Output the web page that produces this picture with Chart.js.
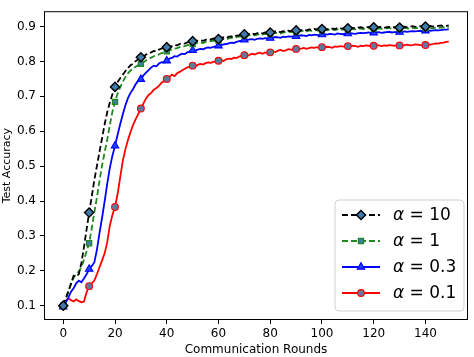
<!DOCTYPE html>
<html>
<head>
<meta charset="utf-8">
<script src="https://cdn.jsdelivr.net/npm/chart.js@4/dist/chart.umd.min.js"></script>
<style>
html,body{margin:0;padding:0;background:#fff;}
#wrap{width:474px;height:357px;position:relative;}
</style>
</head>
<body>
<div id="wrap"><canvas id="c"></canvas></div>
<script>
const rounds = Array.from({length: 150}, (_, i) => i);
const xTicks = [0, 20, 40, 60, 80, 100, 120, 140];
const yTicks = [0.1, 0.2, 0.3, 0.4, 0.5, 0.6, 0.7, 0.8, 0.9];
const seriesLabels = ['10', '1', '0.3', '0.1'];

const alpha10 = [
0.100,0.122,0.143,0.162,0.186,0.184,0.190,0.222,0.268,0.318,
0.367,0.412,0.460,0.500,0.541,0.580,0.620,0.655,0.682,0.706,
0.727,0.741,0.752,0.762,0.772,0.781,0.789,0.794,0.801,0.806,
0.812,0.814,0.820,0.823,0.826,0.830,0.829,0.834,0.837,0.838,
0.841,0.843,0.844,0.847,0.846,0.850,0.852,0.851,0.855,0.856,
0.858,0.857,0.860,0.861,0.859,0.862,0.864,0.863,0.866,0.865,
0.864,0.868,0.869,0.867,0.871,0.872,0.870,0.874,0.875,0.876,
0.878,0.876,0.879,0.880,0.878,0.881,0.882,0.880,0.883,0.882,
0.883,0.884,0.886,0.885,0.884,0.887,0.886,0.888,0.887,0.889,
0.889,0.888,0.890,0.891,0.889,0.892,0.891,0.893,0.892,0.891,
0.893,0.894,0.892,0.895,0.894,0.893,0.896,0.895,0.894,0.896,
0.895,0.897,0.896,0.895,0.897,0.898,0.896,0.897,0.899,0.897,
0.898,0.897,0.899,0.898,0.896,0.898,0.899,0.897,0.898,0.899,
0.897,0.899,0.900,0.898,0.899,0.901,0.899,0.900,0.901,0.899,
0.900,0.901,0.902,0.900,0.901,0.902,0.903,0.901,0.902,0.903];

const alpha1 = [
0.100,0.118,0.140,0.165,0.180,0.190,0.198,0.210,0.232,0.255,
0.279,0.322,0.367,0.410,0.458,0.502,0.540,0.576,0.618,0.656,
0.684,0.708,0.726,0.742,0.755,0.766,0.774,0.780,0.785,0.790,
0.793,0.798,0.803,0.808,0.811,0.815,0.818,0.820,0.824,0.826,
0.829,0.832,0.834,0.837,0.838,0.841,0.843,0.844,0.847,0.848,
0.850,0.851,0.853,0.854,0.853,0.856,0.857,0.858,0.860,0.859,
0.860,0.863,0.864,0.863,0.866,0.868,0.867,0.870,0.871,0.872,
0.874,0.873,0.875,0.876,0.875,0.877,0.878,0.877,0.879,0.878,
0.880,0.881,0.882,0.881,0.880,0.883,0.884,0.885,0.884,0.886,
0.886,0.885,0.887,0.888,0.886,0.889,0.888,0.890,0.889,0.888,
0.890,0.891,0.889,0.892,0.891,0.890,0.892,0.893,0.891,0.893,
0.892,0.894,0.893,0.892,0.894,0.895,0.893,0.894,0.895,0.894,
0.894,0.893,0.895,0.894,0.893,0.895,0.896,0.894,0.895,0.896,
0.894,0.895,0.896,0.895,0.894,0.896,0.895,0.896,0.897,0.895,
0.896,0.897,0.896,0.895,0.897,0.896,0.897,0.898,0.896,0.897];

const alpha03 = [
0.097,0.110,0.124,0.140,0.150,0.164,0.172,0.167,0.178,0.190,
0.205,0.214,0.224,0.260,0.308,0.352,0.400,0.450,0.495,0.530,
0.558,0.590,0.620,0.648,0.674,0.695,0.710,0.721,0.735,0.744,
0.749,0.760,0.768,0.775,0.783,0.788,0.786,0.794,0.798,0.797,
0.802,0.808,0.810,0.815,0.814,0.819,0.822,0.821,0.826,0.829,
0.832,0.831,0.834,0.836,0.835,0.838,0.840,0.839,0.842,0.843,
0.845,0.847,0.849,0.850,0.852,0.854,0.853,0.856,0.858,0.860,
0.862,0.861,0.863,0.864,0.862,0.865,0.866,0.865,0.867,0.866,
0.867,0.868,0.870,0.869,0.868,0.871,0.870,0.872,0.871,0.872,
0.872,0.873,0.875,0.874,0.873,0.876,0.875,0.877,0.876,0.875,
0.877,0.878,0.877,0.879,0.878,0.877,0.880,0.879,0.878,0.880,
0.880,0.881,0.880,0.879,0.881,0.882,0.881,0.882,0.883,0.881,
0.882,0.883,0.884,0.882,0.883,0.884,0.885,0.883,0.884,0.885,
0.884,0.885,0.886,0.885,0.886,0.887,0.886,0.887,0.888,0.887,
0.888,0.889,0.888,0.889,0.890,0.889,0.890,0.891,0.891,0.892];

const alpha01 = [
0.100,0.115,0.121,0.116,0.112,0.118,0.113,0.110,0.112,0.138,
0.156,0.164,0.172,0.190,0.210,0.230,0.250,0.282,0.330,0.360,
0.383,0.420,0.468,0.515,0.548,0.575,0.598,0.618,0.635,0.650,
0.665,0.680,0.694,0.704,0.710,0.719,0.724,0.730,0.739,0.744,
0.750,0.755,0.762,0.758,0.766,0.770,0.775,0.779,0.783,0.785,
0.788,0.786,0.790,0.793,0.791,0.795,0.797,0.796,0.799,0.800,
0.802,0.804,0.801,0.806,0.808,0.807,0.811,0.810,0.814,0.816,
0.818,0.815,0.819,0.822,0.820,0.823,0.825,0.822,0.826,0.824,
0.826,0.829,0.827,0.831,0.833,0.830,0.832,0.835,0.834,0.833,
0.836,0.834,0.837,0.839,0.836,0.838,0.840,0.839,0.841,0.838,
0.841,0.840,0.842,0.841,0.839,0.843,0.842,0.844,0.843,0.842,
0.844,0.843,0.845,0.844,0.842,0.845,0.844,0.846,0.845,0.844,
0.845,0.847,0.846,0.844,0.846,0.845,0.847,0.846,0.845,0.847,
0.846,0.845,0.847,0.848,0.846,0.847,0.849,0.848,0.847,0.846,
0.847,0.849,0.848,0.850,0.852,0.851,0.853,0.854,0.856,0.857];

const FONT = "'DejaVu Sans', sans-serif";
const markerFill = '#3f7aa8';

const styles = [
  {color:'#000000', dash:[6,3], style:'rectRot', r:4.6, fill:markerFill, bw:1.4},
  {color:'#1f8a1f', dash:[6,3], style:'rect', r:3.6, fill:markerFill, bw:1.3},
  {color:'#0000ff', dash:[], style:'triangle', r:4.3, fill:'#1f3fff', bw:1.1},
  {color:'#ff0000', dash:[], style:'circle', r:3.4, fill:'#5a7aa0', bw:1.1}
];
const values = [alpha10, alpha1, alpha03, alpha01];

const datasets = values.map((vals, k) => {
  const s = styles[k];
  return {
    label: 'α = ' + seriesLabels[k],
    data: rounds.map((r, i) => ({x: r, y: vals[i]})),
    borderColor: s.color,
    borderWidth: 1.8,
    borderDash: s.dash,
    pointStyle: s.style,
    pointRadius: ctx => (ctx.dataIndex % 10 === 0 ? s.r : 0),
    pointHoverRadius: 0,
    pointBackgroundColor: s.fill,
    pointBorderColor: s.color,
    pointBorderWidth: s.bw,
    tension: 0,
    fill: false,
    order: k
  };
});

const framePlugin = {
  id: 'frame',
  afterDatasetsDraw(chart) {
    const {ctx, chartArea: a} = chart;
    ctx.save();
    ctx.strokeStyle = '#000';
    ctx.lineWidth = 1;
    ctx.strokeRect(a.left + 0.5, a.top + 0.5, a.right - a.left - 1, a.bottom - a.top - 1);
    ctx.restore();
  }
};

const legendPlugin = {
  id: 'innerLegend',
  afterDraw(chart) {
    const {ctx} = chart;
    ctx.save();
    const bx = 335, by = 200, bw = 129, bh = 111;
    const rr = 4;
    ctx.beginPath();
    ctx.moveTo(bx + rr, by);
    ctx.lineTo(bx + bw - rr, by);
    ctx.quadraticCurveTo(bx + bw, by, bx + bw, by + rr);
    ctx.lineTo(bx + bw, by + bh - rr);
    ctx.quadraticCurveTo(bx + bw, by + bh, bx + bw - rr, by + bh);
    ctx.lineTo(bx + rr, by + bh);
    ctx.quadraticCurveTo(bx, by + bh, bx, by + bh - rr);
    ctx.lineTo(bx, by + rr);
    ctx.quadraticCurveTo(bx, by, bx + rr, by);
    ctx.closePath();
    ctx.fillStyle = 'rgba(255,255,255,0.85)';
    ctx.fill();
    ctx.strokeStyle = '#d0d0d0';
    ctx.lineWidth = 1;
    ctx.stroke();
    const ys = [215, 241, 267, 293];
    styles.forEach((s, k) => {
      const y = ys[k];
      ctx.beginPath();
      ctx.setLineDash(s.dash);
      ctx.strokeStyle = s.color;
      ctx.lineWidth = 1.8;
      ctx.moveTo(342, y);
      ctx.lineTo(380, y);
      ctx.stroke();
      ctx.setLineDash([]);
      ctx.fillStyle = s.fill;
      ctx.strokeStyle = s.color;
      ctx.lineWidth = s.bw;
      Chart.helpers.drawPoint(ctx, {pointStyle: s.style, radius: s.r, rotation: 0, borderWidth: s.bw}, 361, y);
      ctx.fillStyle = '#000';
      ctx.textBaseline = 'middle';
      ctx.textAlign = 'left';
      ctx.font = 'italic 17px ' + FONT;
      ctx.fillText('α', 393, y + 1);
      const w = ctx.measureText('α').width;
      ctx.font = '17px ' + FONT;
      ctx.fillText(' = ' + seriesLabels[k], 393 + w, y + 1);
    });
    ctx.restore();
  }
};

new Chart(document.getElementById('c'), {
  type: 'line',
  data: {datasets},
  options: {
    responsive: true,
    maintainAspectRatio: false,
    animation: false,
    layout: {padding: {top: 2, right: 2, left: 0, bottom: 0}},
    plugins: {legend: {display: false}, tooltip: {enabled: false}},
    scales: {
      x: {
        type: 'linear',
        min: -7.45,
        max: 156.45,
        afterFit: s => { s.height = 37; },
        afterBuildTicks: s => { s.ticks = xTicks.map(v => ({value: v})); },
        grid: {display: true, drawOnChartArea: false, drawTicks: true, tickLength: 4, tickColor: '#000', color: '#000'},
        border: {display: false},
        ticks: {color: '#000', font: {family: FONT, size: 12}, padding: 3, maxRotation: 0, callback: v => String(v)},
        title: {display: true, text: 'Communication Rounds', color: '#000', font: {family: FONT, size: 12}, padding: {top: 0, bottom: 0}}
      },
      y: {
        min: 0.059,
        max: 0.944,
        afterFit: s => { s.width = 44; },
        afterBuildTicks: s => { s.ticks = yTicks.map(v => ({value: v})); },
        grid: {display: true, drawOnChartArea: false, drawTicks: true, tickLength: 4, tickColor: '#000', color: '#000'},
        border: {display: false},
        ticks: {color: '#000', font: {family: FONT, size: 12}, padding: 4, callback: v => Number(v).toFixed(1)},
        title: {display: true, text: 'Test Accuracy', color: '#000', font: {family: FONT, size: 11}, padding: {top: 1, bottom: 0}}
      }
    }
  },
  plugins: [framePlugin, legendPlugin]
});
</script>
</body>
</html>
